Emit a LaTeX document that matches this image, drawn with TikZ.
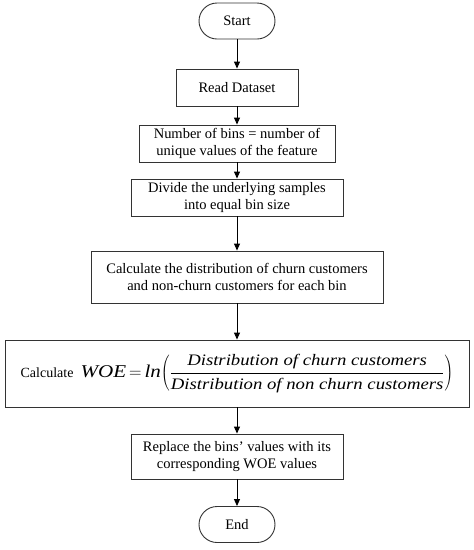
\documentclass[tikz,border=0pt]{standalone}
\usepackage{fontspec}
\setmainfont{Liberation Serif}
\newfontfamily\woefont[FakeStretch=1.17]{Liberation Serif}
\usetikzlibrary{arrows.meta}
\begin{document}
\begin{tikzpicture}[x=1pt,y=-1pt,
  box/.style={draw=black!80, line width=0.9pt, fill=white, align=center, inner sep=0pt,
    font=\fontsize{14.5}{17.3}\selectfont},
  term/.style={box, rounded corners=18pt, minimum width=76pt, minimum height=36pt},
  flow/.style={draw=black, line width=0.9pt, -{Triangle[length=7pt,width=6pt]}}]
\useasboundingbox (0,0) rectangle (474,550);
\node[term] (start) at (237,21) {Start};
\node[box, minimum width=122pt, minimum height=37pt] (read) at (237,87.5) {Read Dataset};
\node[box, minimum width=196pt, minimum height=37pt] (bins) at (237,143.5) {Number of bins = number of\\unique values of the feature};
\node[box, minimum width=212pt, minimum height=37pt] (divide) at (237,197.5) {Divide the underlying samples\\into equal bin size};
\node[box, minimum width=292pt, minimum height=52pt] (calc) at (237,277) {Calculate the distribution of churn customers\\and non-churn customers for each bin};
\node[box, minimum width=464pt, minimum height=67pt] (woe) at (237,373.5)
  {{\fontsize{14}{15}\selectfont Calculate}\hspace{7pt}{\fontsize{18}{20}\selectfont\woefont\itshape WOE}\hspace{3pt}{\fontsize{18}{20}\selectfont$=$}\hspace{3pt}{\fontsize{18}{20}\selectfont\woefont\itshape ln}%
   {\fontsize{16}{19}\selectfont$\displaystyle\left(\frac{\hbox{\woefont\itshape Distribution of churn customers}}{\hbox{\woefont\itshape Distribution of non churn customers}}\right)$}};
\node[box, minimum width=212pt, minimum height=45pt] (replace) at (237,456.5) {Replace the bins' values with its\\corresponding WOE values};
\node[term] (end) at (237,524.5) {End};
\draw[flow] (start) -- (read);
\draw[flow] (read) -- (bins);
\draw[flow] (bins) -- (divide);
\draw[flow] (divide) -- (calc);
\draw[flow] (calc) -- (woe);
\draw[flow] (woe) -- (replace);
\draw[flow] (replace) -- (end);
\end{tikzpicture}
\end{document}
